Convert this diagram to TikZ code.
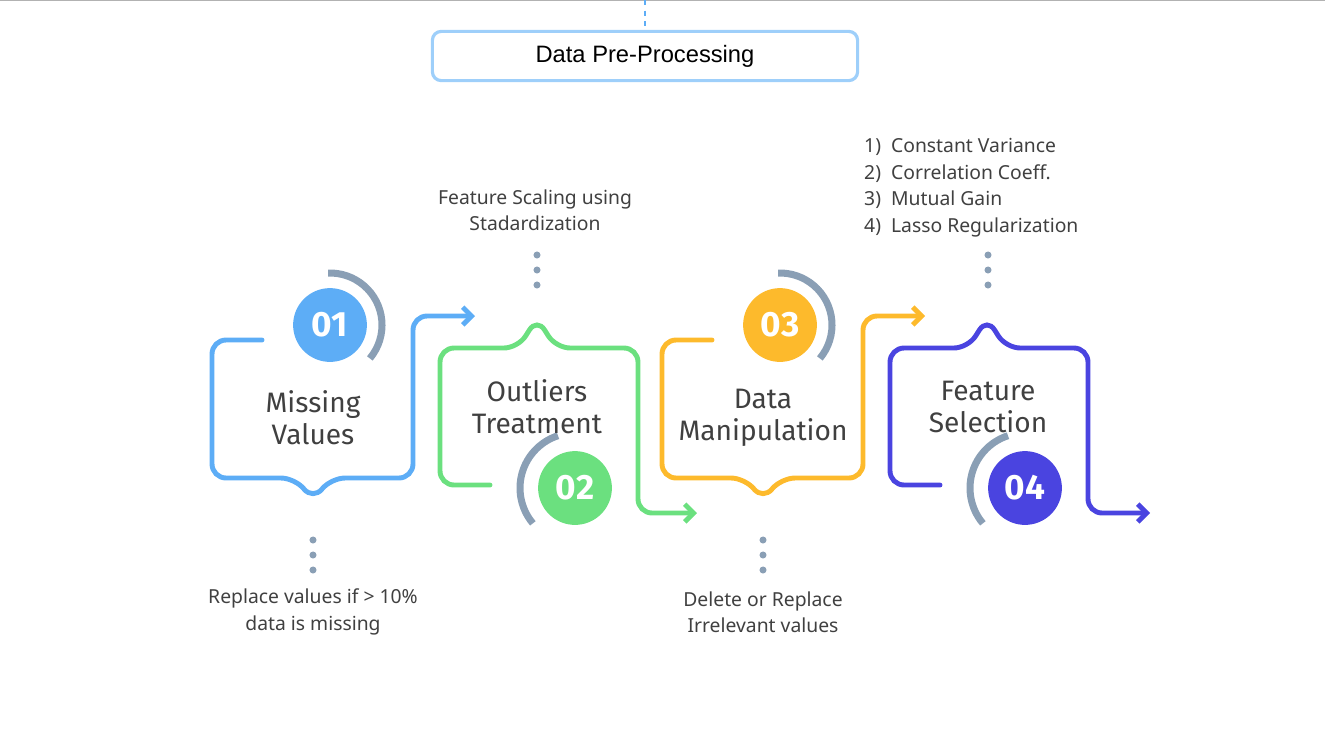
\documentclass[tikz,border=0pt]{standalone}
\usepackage{fontspec}
\setmainfont{Noto Sans}
\newfontfamily\headfont{Fira Sans}
\newfontfamily\titlefont{Liberation Sans}
\usetikzlibrary{arrows.meta}
\definecolor{cblue}{HTML}{5DADF6}
\definecolor{cgreen}{HTML}{6BE07F}
\definecolor{cyellow}{HTML}{FDBA2C}
\definecolor{cindigo}{HTML}{4A44E0}
\definecolor{cgray}{HTML}{8A9FB5}
\definecolor{ctext}{HTML}{404040}
\definecolor{cbox}{HTML}{9ECFFA}
\tikzset{
  stage/.style={line width=2.8pt, rounded corners=8pt, line cap=round},
  num/.style={circle, fill=#1, minimum size=42pt, inner sep=0pt, text=white, font=\headfont\bfseries\fontsize{20}{20}\selectfont},
  head/.style={align=center, text=ctext, font=\headfont\fontsize{16}{18}\selectfont},
  note/.style={align=center, text=ctext, font=\fontsize{11}{15}\selectfont},
  dot/.style={circle, fill=cgray, inner sep=0pt, minimum size=4pt},
  ring/.style={cgray, line width=4pt}
}
\begin{document}
\begin{tikzpicture}[x=0.02cm, y=-0.02cm]
\useasboundingbox (0,0) rectangle (1325,738);
\draw[gray!60, line width=0.6pt] (0,0) -- (1325,0);

% title
\node[draw=cbox, line width=1.8pt, rounded corners=5pt, minimum width=242pt, minimum height=28pt,
  font=\titlefont\fontsize{13.5}{14}\selectfont] (title) at (645,56) {Data Pre-Processing};
\coordinate (top) at (645,0);
\draw[cblue, dashed, line width=0.8pt] (top) -- (title.north);

% step 1
\draw[stage, cblue, -{Straight Barb[length=5pt, width=10pt]}]
  (262,340) -- (212,340) -- (212,478) -- (295,478) -- (313,500) -- (331,478)
  -- (413,478) -- (413,316) -- (475,316);
\node[num=cblue] (n1) at (330,325) {01};
\draw[ring] (330,325) ++(40:52) arc[start angle=40, end angle=-92, radius=52];
\node[head] (h1) at (313,418) {Missing\\Values};

% step 2
\draw[stage, cgreen, -{Straight Barb[length=5pt, width=10pt]}]
  (490,485) -- (440,485) -- (440,348) -- (518,348) -- (537,318) -- (556,348)
  -- (638,348) -- (638,513) -- (697,513);
\node[num=cgreen] (n2) at (575,488) {02};
\draw[ring] (575,488) ++(140:55) arc[start angle=140, end angle=252, radius=55];
\node[head] (h2) at (537,407) {Outliers\\Treatment};

% step 3
\draw[stage, cyellow, -{Straight Barb[length=5pt, width=10pt]}]
  (712,340) -- (662,340) -- (662,478) -- (745,478) -- (763,500) -- (781,478)
  -- (863,478) -- (863,316) -- (925,316);
\node[num=cyellow] (n3) at (780,325) {03};
\draw[ring] (780,325) ++(40:52) arc[start angle=40, end angle=-92, radius=52];
\node[head] (h3) at (763,418) {Data\\Manipulation};

% step 4
\draw[stage, cindigo, -{Straight Barb[length=5pt, width=10pt]}]
  (940,485) -- (890,485) -- (890,348) -- (968,348) -- (987,318) -- (1006,348)
  -- (1088,348) -- (1088,513) -- (1150,513);
\node[num=cindigo] (n4) at (1025,488) {04};
\draw[ring] (1025,488) ++(140:55) arc[start angle=140, end angle=252, radius=55];
\node[head] (h4) at (988,407) {Feature\\Selection};

% dots
\foreach \x/\y in {313/540, 537/255, 763/540, 988/255}
  \foreach \d in {0,15,30}
    \node[dot] at (\x,\y+\d) {};

% notes
\node[note] (t1) at (313,612) {Replace values if > 10\%\\data is missing};
\node[note] (t2) at (535,210) {Feature Scaling using\\Stadardization};
\node[note] (t3) at (763,612) {Delete or Replace\\Irrelevant values};
\node[note, align=left, anchor=north west, font=\fontsize{11}{15.2}\selectfont] (t4) at (858,132)
  {1)\ \ Constant Variance\\2)\ \ Correlation Coeff.\\3)\ \ Mutual Gain\\4)\ \ Lasso Regularization};
\end{tikzpicture}
\end{document}
